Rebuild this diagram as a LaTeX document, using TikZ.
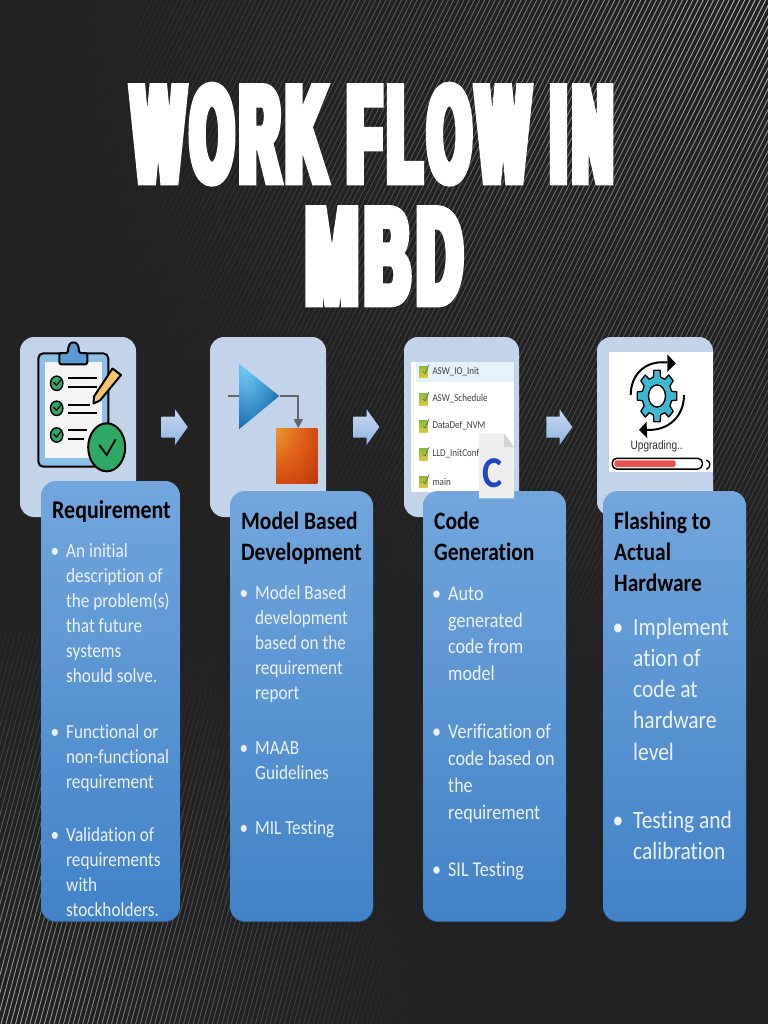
\documentclass[tikz,border=0pt]{standalone}
\usepackage{fontspec}
\setmainfont[FakeStretch=0.86,Ligatures=CommonOff]{Carlito}
\newfontfamily\titlefont[FakeStretch=0.40,FakeBold=7,LetterSpace=5.4]{Liberation Sans Bold}
\newfontfamily\titlefontb[FakeStretch=0.46,FakeBold=7,LetterSpace=5.4]{Liberation Sans Bold}
\newfontfamily\uifont[FakeStretch=0.82]{Liberation Sans}
\usetikzlibrary{arrows.meta}
\definecolor{bgdark}{HTML}{222222}
\definecolor{lightcard}{HTML}{C2D3EA}
\definecolor{cardtop}{HTML}{72A6DD}
\definecolor{cardmid}{HTML}{5596D8}
\definecolor{cardbot}{HTML}{4282C7}
\definecolor{rim}{HTML}{2F5F94}
\definecolor{okgreen}{HTML}{2FA866}
\definecolor{linegrey}{HTML}{666666}
\definecolor{bodytext}{HTML}{EAF1FA}
\definecolor{gearblue}{HTML}{3DB8D0}
\definecolor{arrowtop}{HTML}{C8D9EF}
\definecolor{arrowbot}{HTML}{8FB5E2}
\definecolor{boardblue}{HTML}{8DBFE8}
\definecolor{paper}{HTML}{F5F5F5}
\definecolor{clipblue}{HTML}{5B9BD5}
\definecolor{pencil}{HTML}{F3C669}
\definecolor{rowblue}{HTML}{E5F1FB}
\definecolor{icongreen}{HTML}{8DBB3A}
\definecolor{iconyellow}{HTML}{D9C93C}
\definecolor{barred}{HTML}{E8524F}
\definecolor{pagegrey}{HTML}{EEEEEE}
\definecolor{foldgrey}{HTML}{D5D5D5}
\definecolor{cblue}{HTML}{2347C4}
\definecolor{bsA}{HTML}{E9BC45}
\definecolor{bsB}{HTML}{E8892B}
\definecolor{bsC}{HTML}{DD5A16}
\definecolor{bsD}{HTML}{B8330C}
\definecolor{bsE}{HTML}{8E2A18}
\definecolor{tsA}{HTML}{72CDF0}
\definecolor{tsB}{HTML}{4FA8DC}
\definecolor{tsC}{HTML}{1C6FB4}
\definecolor{tsD}{HTML}{124F90}
\pgfdeclareradialshading{boxshade}{\pgfpoint{-35bp}{35bp}}{color(0bp)=(bsA);color(14bp)=(bsB);color(34bp)=(bsC);color(60bp)=(bsD);color(100bp)=(bsE)}
\pgfdeclareradialshading{trishade}{\pgfpoint{-20bp}{25bp}}{color(0bp)=(tsA);color(18bp)=(tsB);color(40bp)=(tsC);color(70bp)=(tsD);color(100bp)=(tsD)}
\tikzset{
  x=1pt,y=-1pt,
  lightbox/.style={fill=lightcard,rounded corners=14pt},
  bluebox/.style={top color=cardtop,middle color=cardmid,bottom color=cardbot,rounded corners=15pt},
  rimbox/.style={fill=rim,rounded corners=15pt},
  heading/.style={inner sep=0pt,anchor=north west,align=left,text=black},
  bodypara/.style={inner sep=0pt,anchor=north west,align=left,text=bodytext},
  blockarrow/.style={top color=arrowtop,bottom color=arrowbot},
  ink/.style={draw=black,line width=2pt,line join=round},
  filerow/.style={inner sep=0pt,anchor=west,text=black!75,font=\fontsize{10.5}{13}\selectfont},
}
% centre of first line given: #1 name #2 x #3 y #4 size #5 leading #6 style #7 text
\newcommand{\txtblock}[7]{%
  \pgfmathsetmacro{\tby}{#3+2+0.24*#4-0.7*#5}%
  \node[#6,font=\fontsize{#4}{#5}\selectfont] (#1) at (#2,\tby) {\strut #7};}
\newcommand{\bul}[1]{\llap{\textbullet\hspace{#1pt}}}
% stripes: cx cy R amax slope x0from x0next x0to ylist
\newcommand{\stripes}[9]{%
  \foreach \xo in {#6,#7,...,#8}{%
    \foreach \yy in {#9}{%
      \pgfmathsetmacro{\xa}{\xo-#5*\yy}%
      \pgfmathsetmacro{\ya}{\yy+30}%
      \pgfmathsetmacro{\xb}{\xo-#5*\ya}%
      \pgfmathsetmacro{\dd}{100*veclen((\xa+\xb)/200-#1/100,(\yy+15)/100-#2/100)}%
      \pgfmathsetmacro{\al}{#4*max(0.001,1-\dd/#3)^1.5}%
      \pgfmathparse{\al>0.012?1:0}%
      \ifdim\pgfmathresult pt>0.5pt
        \pgfmathsetmacro{\alr}{round(\al*50)/50}%
        \draw[white,line width=0.9pt,opacity=\alr] (\xa,\yy) -- (\xb,\ya);%
      \fi
    }%
  }%
}
\begin{document}
\begin{tikzpicture}
\useasboundingbox (0,0) rectangle (768,1024);
\fill[bgdark] (0,0) rectangle (768,1024);
\begin{scope}
\clip (0,0) rectangle (768,1024);
\stripes{768}{0}{720}{0.72}{0.5}{100}{105.2}{1290}{0,30,...,1020}
\stripes{0}{1024}{440}{0.62}{0.27}{100}{104.8}{760}{570,600,...,1020}
\end{scope}

% title
\node[inner sep=0pt,anchor=center,text=white,align=center,font=\titlefont\fontsize{135}{122}\selectfont] (title) at (384,194.5)
  {\pgfsetmiterlimit{2}WORK FLOW IN\hspace*{23pt}\\\titlefontb\fontsize{135}{122}\selectfont MBD};

% image cards
\fill[lightbox] (20,337) rectangle (136,517);
\fill[lightbox] (210,337) rectangle (326,517);
\fill[lightbox] (404,337) rectangle (519,517);
\fill[lightbox] (597,337) rectangle (713,516);

% flow arrows
\foreach \dx in {0,191.6,384.6}{
  \shade[blockarrow,shift={(\dx,0)}] (161.7,416.7) -- (175,416.7) -- (175,409.3) -- (187.7,427) -- (175,445) -- (175,437.7) -- (161.7,437.7) -- cycle;
}

% clipboard icon
\draw[ink,fill=boardblue,rounded corners=5pt] (38.3,353.3) rectangle (108.3,466.7);
\fill[paper] (45,361.7) rectangle (101.7,458.3);
\draw[ink,fill=clipblue,rounded corners=2pt] (59.3,364.3) -- (59.3,353) -- (68,353) .. controls (68,345) and (71,342.7) .. (73.3,342.7) .. controls (76,342.7) and (79,345) .. (79,353) -- (87.3,353) -- (87.3,364.3) -- cycle;
\foreach \yy in {383.3,408.3,435}{
  \draw[draw=black,line width=1.4pt,fill=okgreen] (56.7,\yy) ellipse (6.2 and 7.2);
  \draw[black,line width=1.2pt] (53.5,\yy-1) -- (56.5,\yy+2) -- (61.5,\yy-4);
}
\draw[black,line width=1.8pt] (68.3,378.3) -- (96.7,378.3) (68.3,386.7) -- (96.7,386.7)
  (68.3,405) -- (90,405) (68.3,413.3) -- (96.7,413.3)
  (68.3,430) -- (86.7,430) (68.3,439.3) -- (84,439.3);
\draw[ink,fill=pencil] (112.5,368.5) -- (121,375) -- (100,400.5) -- (93.5,403.5) -- (94,396.5) -- cycle;
\draw[ink,fill=okgreen] (106.7,447.3) ellipse (18.5 and 24);
\draw[black,line width=1.8pt] (99.3,445) -- (106.7,455) -- (115.7,439.3);

% model icon
\shade[shading=trishade] (239.3,364) -- (279.3,396) -- (239.3,429) -- cycle;
\shade[shading=boxshade] (276,428.3) rectangle (317.3,483.3);
\node[inner sep=0pt,minimum size=0pt] (tri) at (279.3,396) {};
\node[inner sep=0pt,minimum size=0pt] (blk) at (298.3,428.3) {};
\coordinate (inL) at (227.7,396.3);
\coordinate (inR) at (239.3,396.3);
\draw[linegrey,line width=1.7pt] (inL) -- (inR);
\draw[linegrey,line width=1.7pt,-{Triangle[length=9pt,width=9pt]}] (tri) -| (blk);

% code icon
\fill[white] (411.3,361.7) rectangle (514,492.3);
\fill[rowblue] (415.7,361.7) rectangle (514,381.7);
\foreach \nm/\yy/\tx in {a/371.7/ASW\_IO\_Init,b/399/ASW\_Schedule,c/426/DataDef\_NVM,d/454/LLD\_InitConf,e/481.7/main}{
  \shade[top color=icongreen,bottom color=iconyellow] (419.2,\yy-5.5) rectangle (427.5,\yy+6);
  \draw[black!60,line width=0.7pt] (423,\yy) -- (425,\yy+2) -- (429,\yy-7);
  \node[filerow] (file\nm) at (432.3,\yy) {\tx};
}

% flashing icon
\fill[white] (609,351.7) rectangle (713,472.3);
\draw[black,line width=2pt] (630.7,395) .. controls (630.7,375) and (645,360) .. (667,362.5);
\fill[black] (667.3,354.3) -- (675.7,363.3) -- (667.3,371.7) -- cycle;
\draw[black,line width=2pt] (684,395) .. controls (684,415) and (670,431) .. (646,430);
\fill[black] (646.5,421.7) -- (639,430) -- (647.3,438.3) -- cycle;
\begin{scope}[shift={(657,396)},yscale=1.3]
\draw[draw=black,line width=1.3pt,fill=gearblue,line join=round] (-14:15)
  foreach \a in {0,45,...,315} { -- (\a-14:15) -- (\a-9:20) -- (\a+9:20) -- (\a+14:15) } -- cycle;
\draw[draw=black,line width=1.4pt,fill=white] (0,0) circle (8.5);
\end{scope}
\node[inner sep=0pt,text=black!80,font=\uifont\fontsize{12.3}{14}\selectfont] (upg) at (656.7,446.7) {Upgrading..};
\draw[draw=black,line width=1.5pt,fill=white,rounded corners=4.5pt] (612.3,458.3) rectangle (702.3,469);
\fill[barred,rounded corners=2.5pt] (614.3,460.3) rectangle (675.7,467);
\draw[black,line width=1.3pt] (706.3,460) .. controls (711,461) and (711,468) .. (706.3,469.3);

% text cards
\foreach \xa/\ya/\xb in {41/481/180,230/491/373,423/491/566,603/491/746}{
  \fill[rimbox] (\xa,\ya+1.2) rectangle (\xb,922);
  \shade[bluebox] (\xa,\ya) rectangle (\xb,921);
}

% C file
\fill[pagegrey] (479,433.3) -- (504,433.3) -- (514,447) -- (514,498.3) -- (479,498.3) -- cycle;
\fill[foldgrey] (504,433.3) -- (514,447) -- (504,447) -- cycle;
\node[inner sep=0pt,text=cblue,font=\bfseries\fontsize{44}{46}\selectfont] (cfile) at (492.3,473) {C};

% column 1
\txtblock{h1}{52}{510}{25.5}{31}{heading}{\textbf{Requirement}}
\txtblock{p1a}{66}{550}{20}{25.1}{bodypara}{\bul{7}An initial\\description of\\the problem(s)\\that future\\systems\\should solve.}
\txtblock{p1b}{66}{731}{20}{25.1}{bodypara}{\bul{7}Functional or\\non-functional\\requirement}
\txtblock{p1c}{66}{834}{20}{25.3}{bodypara}{\bul{7}Validation of\\requirements\\with\\stockholders.}
% column 2
\txtblock{h2}{241}{521}{25}{31}{heading}{\textbf{Model Based}\\\textbf{Development}}
\txtblock{p2a}{255}{592}{20}{25.2}{bodypara}{\bul{7}Model Based\\development\\based on the\\requirement\\report}
\txtblock{p2b}{255}{747}{20}{25.2}{bodypara}{\bul{7}MAAB\\Guidelines}
\txtblock{p2c}{255}{827}{20}{25.2}{bodypara}{\bul{7}MIL Testing}
% column 3
\txtblock{h3}{434}{521}{25}{31}{heading}{\textbf{Code}\\\textbf{Generation}}
\txtblock{p3a}{448}{593}{21}{26.8}{bodypara}{\bul{7}Auto\\generated\\code from\\model}
\txtblock{p3b}{448}{731}{21}{27}{bodypara}{\bul{7}Verification of\\code based on\\the\\requirement}
\txtblock{p3c}{448}{869}{21}{27}{bodypara}{\bul{7}SIL Testing}
% column 4
\txtblock{h4}{614}{521}{25}{31}{heading}{\textbf{Flashing to}\\\textbf{Actual}\\\textbf{Hardware}}
\txtblock{p4a}{633}{627}{25}{31.2}{bodypara}{\bul{10}Implement\\ation of\\code at\\hardware\\level}
\txtblock{p4b}{633}{820}{25}{31.5}{bodypara}{\bul{10}Testing and\\calibration}
\end{tikzpicture}
\end{document}
